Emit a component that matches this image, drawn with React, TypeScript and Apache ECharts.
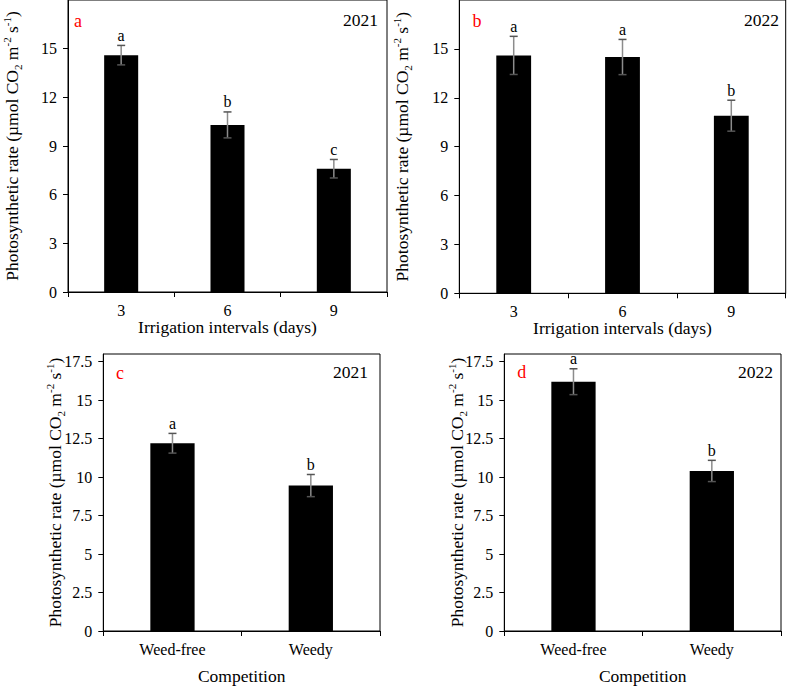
import React, { useEffect, useRef } from "react";
import * as echarts from "echarts";

// ---- data ----
const irrigationCats = ["3", "6", "9"];
const rateIrr2021 = [14.6, 10.3, 7.6];
const errIrr2021 = [0.6, 0.8, 0.57];
const lettersIrr2021 = ["a", "b", "c"];

const rateIrr2022 = [14.6, 14.5, 10.9];
const errIrr2022 = [1.17, 1.08, 0.95];
const lettersIrr2022 = ["a", "a", "b"];

const competitionCats = ["Weed-free", "Weedy"];
const rateComp2021 = [12.2, 9.45];
const errComp2021 = [0.64, 0.72];
const lettersComp2021 = ["a", "b"];

const rateComp2022 = [16.2, 10.4];
const errComp2022 = [0.84, 0.69];
const lettersComp2022 = ["a", "b"];

const irrAxisMax = 18;
const irrAxisInterval = 3;
const compAxisMax = 18;
const compAxisInterval = 2.5;

const panelLetters = ["a", "b", "c", "d"];
const panelYears = ["2021", "2022", "2021", "2022"];

const FONT = "Liberation Serif";

const yName = "Photosynthetic rate (µmol CO{sub|2} m{sup|-2} s{sup|-1})";

const panels = [
  { cats: irrigationCats, vals: rateIrr2021, errs: errIrr2021, letters: lettersIrr2021, max: irrAxisMax, interval: irrAxisInterval, xName: "Irrigation intervals (days)" },
  { cats: irrigationCats, vals: rateIrr2022, errs: errIrr2022, letters: lettersIrr2022, max: irrAxisMax, interval: irrAxisInterval, xName: "Irrigation intervals (days)" },
  { cats: competitionCats, vals: rateComp2021, errs: errComp2021, letters: lettersComp2021, max: compAxisMax, interval: compAxisInterval, xName: "Competition" },
  { cats: competitionCats, vals: rateComp2022, errs: errComp2022, letters: lettersComp2022, max: compAxisMax, interval: compAxisInterval, xName: "Competition" },
];

// layout (pixels)
const grids = [
  { left: 62, top: -26.6, width: 325, height: 318.6 },
  { left: 459.3, top: -24.1, width: 326.4, height: 317.4 },
  { left: 103.3, top: 354, width: 276.7, height: 278.7 },
  { left: 504.3, top: 354, width: 276.7, height: 279.3 },
];
const yNameGaps = [45, 46, 37, 36];
const xNameGaps = [26, 26, 36, 36];
const letterPos = [
  { x: 78, y: 21 },
  { x: 477, y: 21 },
  { x: 120, y: 373 },
  { x: 521.7, y: 372 },
];
const yearPos = [
  { x: 378, y: 20 },
  { x: 779, y: 20 },
  { x: 368, y: 372 },
  { x: 773, y: 372 },
];

export default function App() {
  const ref = useRef<HTMLDivElement>(null);
  useEffect(() => {
    if (!ref.current) return;
    const chart = echarts.init(ref.current, undefined, { renderer: "svg" });

    const grid = grids.map((g) => ({
      left: g.left,
      top: g.top,
      width: g.width,
      height: g.height,
      show: true,
      borderColor: "#000",
      borderWidth: 1,
      backgroundColor: "transparent",
      containLabel: false,
    }));

    const xAxis = panels.map((p, i) => ({
      type: "category",
      gridIndex: i,
      data: p.cats,
      boundaryGap: true,
      name: p.xName,
      nameLocation: "middle",
      nameGap: xNameGaps[i],
      nameMoveOverlap: false,
      nameTextStyle: { fontFamily: FONT, fontSize: 17.5, color: "#000" },
      axisLine: { show: true, lineStyle: { color: "#000", width: 1 } },
      axisTick: { show: true, length: 5, inside: false, alignWithLabel: false, lineStyle: { color: "#000" } },
      axisLabel: { fontFamily: FONT, fontSize: 16, color: "#000", margin: 10 },
      splitLine: { show: false },
    }));

    const yAxis = panels.map((p, i) => ({
      type: "value",
      gridIndex: i,
      min: 0,
      max: p.max,
      interval: p.interval,
      name: yName,
      nameLocation: "middle",
      nameRotate: 90,
      nameGap: yNameGaps[i],
      nameMoveOverlap: false,
      nameTextStyle: {
        fontFamily: FONT,
        fontSize: 17.5,
        color: "#000",
        lineHeight: 22,
        rich: {
          sub: { fontFamily: FONT, fontSize: 11, lineHeight: 11, verticalAlign: "bottom", color: "#000" },
          sup: { fontFamily: FONT, fontSize: 11, lineHeight: 11, verticalAlign: "top", color: "#000" },
        },
      },
      axisLine: { show: true, lineStyle: { color: "#000", width: 1 } },
      axisTick: { show: true, length: 5, inside: false, lineStyle: { color: "#000" } },
      axisLabel: {
        fontFamily: FONT,
        fontSize: 16,
        color: "#000",
        margin: 11,
        showMaxLabel: false,
        formatter: (v: number) => (v % p.interval === 0 ? String(v) : ""),
      },
      splitLine: { show: false },
    }));

    const series: any[] = [];
    panels.forEach((p, i) => {
      series.push({
        type: "bar",
        xAxisIndex: i,
        yAxisIndex: i,
        data: p.vals,
        barWidth: "32%",
        itemStyle: { color: "#000" },
        silent: true,
      });
      series.push({
        type: "custom",
        xAxisIndex: i,
        yAxisIndex: i,
        silent: true,
        z: 10,
        data: p.vals.map((v, k) => [k, v, p.errs[k]]),
        renderItem: (params: any, api: any) => {
          const x = api.value(0);
          const v = api.value(1);
          const e = api.value(2);
          const hi = api.coord([x, v + e]);
          const lo = api.coord([x, v - e]);
          const cap = 4;
          const letter = p.letters[params.dataIndex];
          return {
            type: "group",
            children: [
              { type: "line", shape: { x1: hi[0], y1: hi[1], x2: lo[0], y2: lo[1] }, style: { stroke: "#8c8c8c", lineWidth: 1.5 } },
              { type: "line", shape: { x1: hi[0] - cap, y1: hi[1], x2: hi[0] + cap, y2: hi[1] }, style: { stroke: "#555", lineWidth: 1.5 } },
              { type: "line", shape: { x1: lo[0] - cap, y1: lo[1], x2: lo[0] + cap, y2: lo[1] }, style: { stroke: "#555", lineWidth: 1.5 } },
              {
                type: "text",
                x: hi[0],
                y: hi[1] - 2,
                style: {
                  text: letter,
                  fontFamily: FONT,
                  fontSize: 16,
                  fill: "#000",
                  align: "center",
                  verticalAlign: "bottom",
                  textAlign: "center",
                  textVerticalAlign: "bottom",
                },
              },
            ],
          };
        },
      });
    });

    const graphic: any[] = [];
    panelLetters.forEach((l, i) => {
      graphic.push({
        type: "text",
        x: letterPos[i].x,
        y: letterPos[i].y,
        style: { text: l, fontFamily: FONT, fontSize: 18, fill: "#ff0000", textAlign: "center", textVerticalAlign: "middle", align: "center", verticalAlign: "middle" },
      });
      graphic.push({
        type: "text",
        x: yearPos[i].x,
        y: yearPos[i].y,
        style: { text: panelYears[i], fontFamily: FONT, fontSize: 17.5, fill: "#000", textAlign: "right", textVerticalAlign: "middle", align: "right", verticalAlign: "middle" },
      });
    });

    chart.setOption({
      animation: false,
      backgroundColor: "#fff",
      grid,
      xAxis,
      yAxis,
      series,
      graphic,
    });
    return () => chart.dispose();
  }, []);

  return (
    <div
      ref={ref}
      style={{ position: "fixed", left: 0, top: 0, width: 787, height: 686, background: "#fff" }}
    />
  );
}
